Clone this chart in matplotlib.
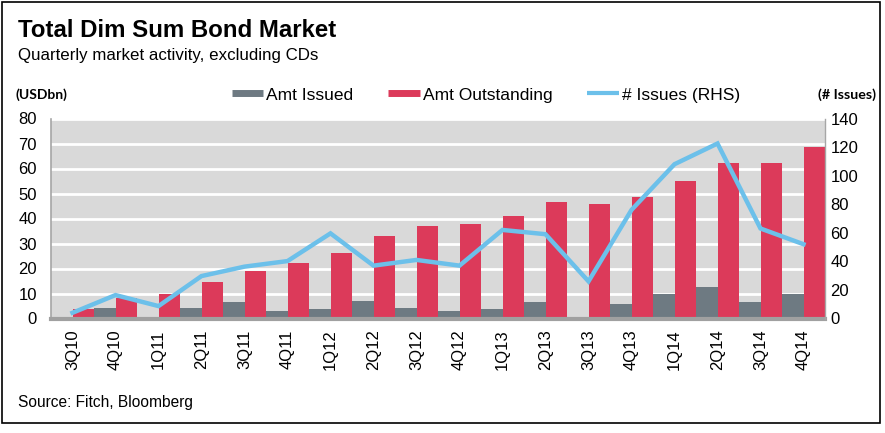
import matplotlib.pyplot as plt
from matplotlib.lines import Line2D
from matplotlib.patches import Rectangle
import numpy as np

quarters = ["3Q10", "4Q10", "1Q11", "2Q11", "3Q11", "4Q11", "1Q12", "2Q12", "3Q12",
            "4Q12", "1Q13", "2Q13", "3Q13", "4Q13", "1Q14", "2Q14", "3Q14", "4Q14"]
amt_issued = [0.8, 4.3, 0.8, 4.3, 6.5, 3.0, 3.7, 7.1, 4.3,
              3.0, 3.7, 6.5, 0.3, 5.8, 9.8, 12.5, 6.5, 9.8]
amt_outstanding = [3.7, 8.4, 9.8, 14.7, 19.2, 22.1, 26.1, 33.0, 37.1,
                   37.7, 41.2, 46.8, 46.0, 48.6, 55.0, 62.3, 62.3, 68.6]
num_issues = [4, 16.4, 8.7, 29.7, 36.3, 40.2, 59.6, 37, 41,
              37, 62, 59, 26, 76, 108, 122.5, 63, 52]

GREY = "#6E7A82"
RED = "#DC3A5A"
BLUE = "#6CC0EA"
BG = "#D9D9D9"

plt.rcParams["font.family"] = ["Liberation Sans", "DejaVu Sans"]

fig = plt.figure(figsize=(8.85, 4.33), dpi=100)
ax = fig.add_axes([51 / 885, 1 - 318.5 / 433, 774 / 885, 200 / 433])

x = np.arange(len(quarters))
ax.bar(x - 0.25, amt_issued, 0.5, color=GREY, zorder=2)
ax.bar(x + 0.25, amt_outstanding, 0.5, color=RED, zorder=2)
ax.set_xlim(-0.5, len(quarters) - 0.5)
ax.set_ylim(0, 80)
ax.set_facecolor(BG)
ax.set_yticks(range(0, 81, 10))
ax.yaxis.grid(True, color="white", lw=2)
ax.set_axisbelow(True)
ax.tick_params(axis="y", length=0, pad=10, labelsize=12)
ax.set_xticks(x, quarters, rotation=90)
ax.tick_params(axis="x", length=0, pad=8, labelsize=12)
ax.spines["top"].set_visible(False)
ax.spines["right"].set_visible(False)
ax.spines["left"].set_color("#A6A6A6")
ax.spines["left"].set_linewidth(1.2)
ax.spines["bottom"].set_color("#A0A0A0")
ax.spines["bottom"].set_linewidth(3)

ax2 = ax.twinx()
ax2.plot(x, num_issues, color=BLUE, lw=3.2, solid_joinstyle="miter")
ax2.set_ylim(0, 140)
ax2.set_yticks(range(0, 141, 20))
ax2.tick_params(axis="y", length=0, pad=4, labelsize=12)
for s in ["top", "left", "bottom"]:
    ax2.spines[s].set_visible(False)
ax2.spines["right"].set_color("#A6A6A6")
ax2.spines["right"].set_linewidth(1)

handles = [Line2D([], [], color=GREY, lw=5, solid_capstyle="butt"),
           Line2D([], [], color=RED, lw=5, solid_capstyle="butt"),
           Line2D([], [], color=BLUE, lw=3, solid_capstyle="butt")]
fig.legend(handles, ["Amt Issued", "Amt Outstanding", "# Issues (RHS)"],
           loc="center", bbox_to_anchor=(486 / 885, 1 - 95 / 433), ncol=3,
           frameon=False, fontsize=12.5, handlelength=1.8, handletextpad=0.2,
           columnspacing=2.0)

fig.text(18 / 885, 1 - 37 / 433, "Total Dim Sum Bond Market", fontsize=17.3,
         fontweight="bold", va="baseline")
fig.text(18 / 885, 1 - 60 / 433, "Quarterly market activity, excluding CDs",
         fontsize=12.2, va="baseline")
fig.text(16 / 885, 1 - 95 / 433, "(USDbn)", fontsize=10, fontweight="bold",
         va="center", family=["Lato", "DejaVu Sans"])
fig.text(876 / 885, 1 - 95 / 433, "(# Issues)", fontsize=10.3, fontweight="bold",
         va="center", ha="right", family=["Lato", "DejaVu Sans"])
fig.text(18 / 885, 1 - 402 / 433, "Source: Fitch, Bloomberg", fontsize=11.2,
         va="center")

fig.add_artist(Rectangle((2 / 885, 10 / 433), 878 / 885, 421 / 433, fill=False,
                         ec="black", lw=1.2, transform=fig.transFigure))

fig.savefig("out.png", dpi=100)
